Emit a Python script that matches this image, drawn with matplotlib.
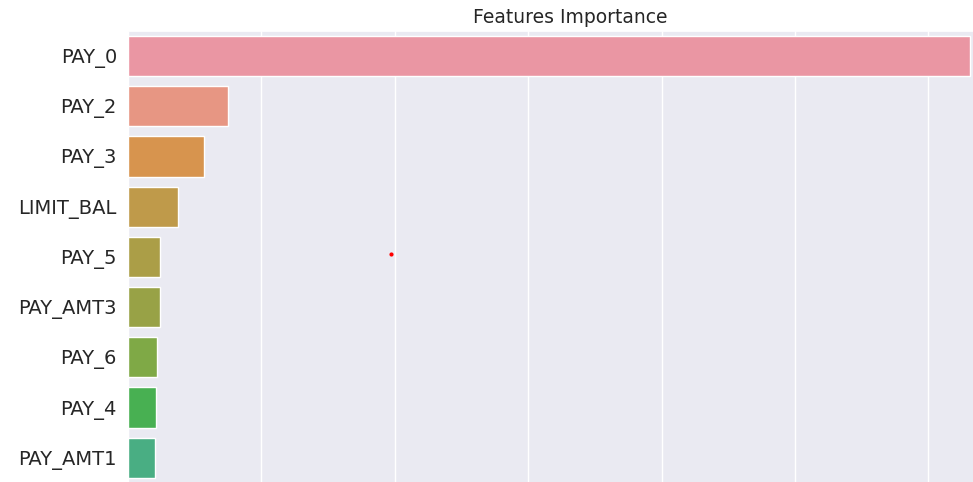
import numpy as np
import matplotlib
matplotlib.use("Agg")
import matplotlib.pyplot as plt
import seaborn as sns

# feature importances (visible part of the ranking)
features = ["PAY_0", "PAY_2", "PAY_3", "LIMIT_BAL", "PAY_5",
            "PAY_AMT3", "PAY_6", "PAY_4", "PAY_AMT1"]
importance = [0.631, 0.075, 0.057, 0.0375, 0.024, 0.024, 0.0217, 0.021, 0.020]

# stray red dot in the original
dot_x = [0.197]
dot_y = [3.94]

sns.set_theme(style="darkgrid")
plt.rcParams["font.family"] = ["DejaVu Sans"]

# seaborn's husl palette, desaturated like barplot does
colors = [sns.desaturate(c, 0.75) for c in sns.husl_palette(20, l=.7)][:len(features)]

W, H = 973, 482
fig = plt.figure(figsize=(W / 100, H / 100), dpi=100)
# axes runs past the right and bottom edge (the source image is a crop)
px_per_cat = 50.2
ymax = 9.3
ax_h = (ymax + 0.5) * px_per_cat
ax_w = 0.631 * 1.05 * 1334
ax = fig.add_axes([128 / W, (H - 31 - ax_h) / H, ax_w / W, ax_h / H])

y = np.arange(len(features))
ax.barh(y, importance, height=0.8, color=colors, edgecolor="white", linewidth=1)
ax.scatter(dot_x, dot_y, s=9, color="red", linewidths=0, zorder=5)

ax.set_yticks(y)
ax.set_yticklabels(features, fontsize=14)
ax.set_ylim(ymax, -0.5)
ax.set_xlim(0, max(importance) * 1.05)
ax.xaxis.set_major_locator(matplotlib.ticker.MultipleLocator(0.1))
ax.grid(False, axis="y")
ax.tick_params(axis="x", labelbottom=False, length=0)
ax.tick_params(axis="y", length=0, pad=8, labelcolor="#262626")
ax.set_title("Features Importance", fontsize=13.5, color="#262626")

fig.savefig("out.png", dpi=100)
